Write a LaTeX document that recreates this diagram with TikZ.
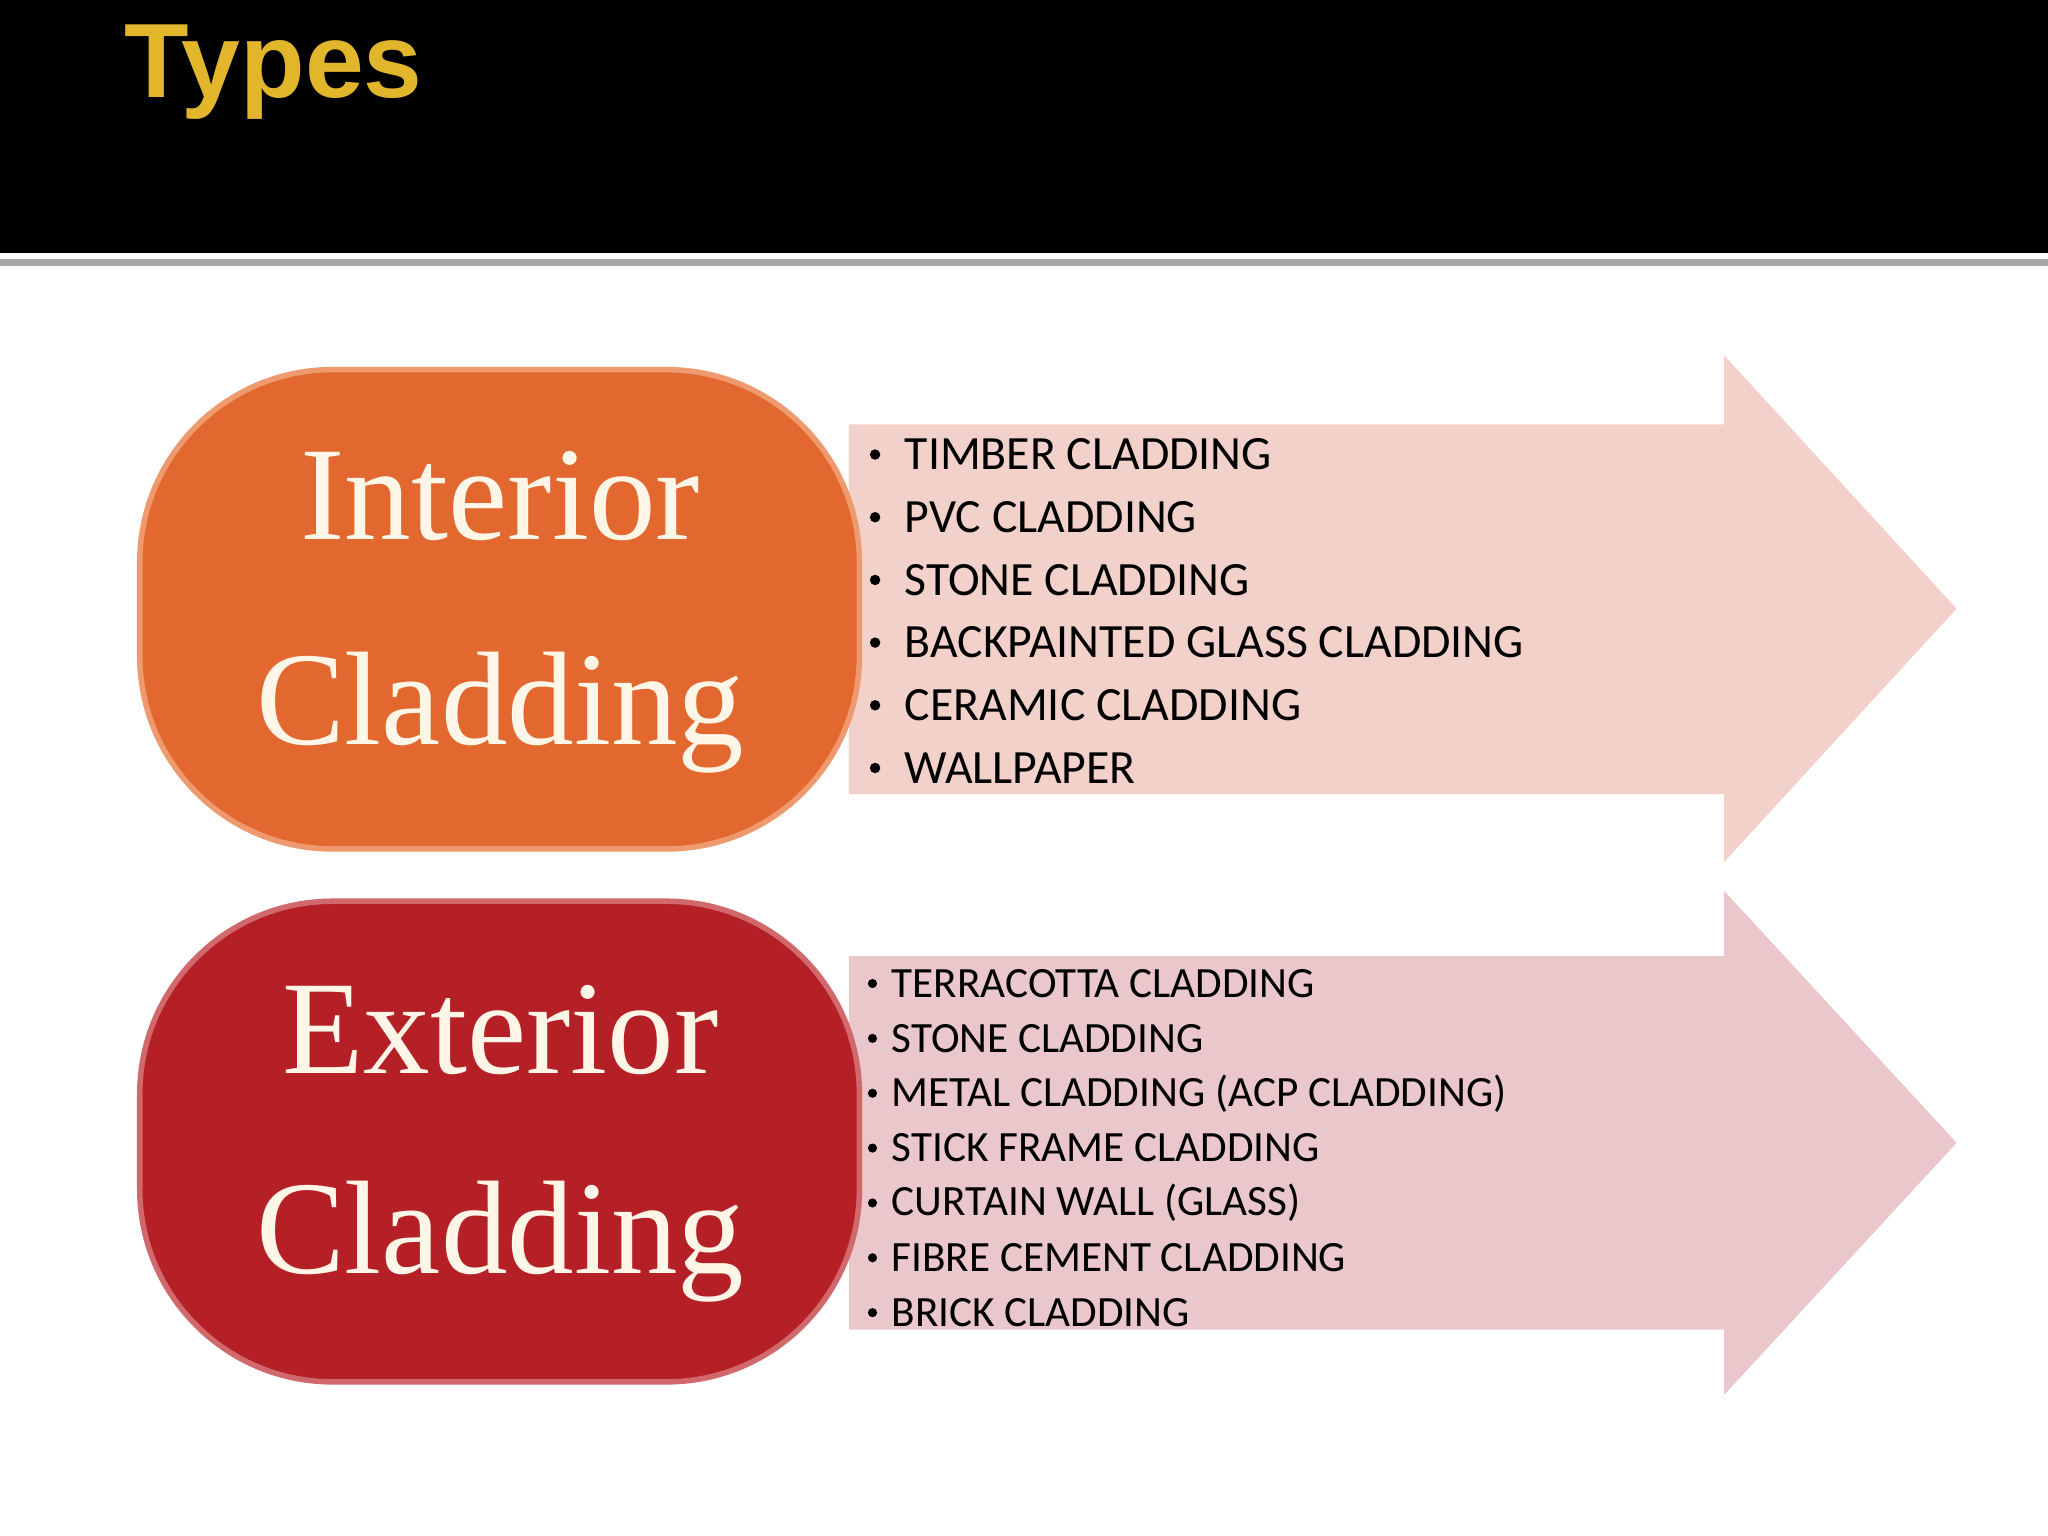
\documentclass[tikz,border=0pt]{standalone}
\usepackage{fontspec}
\setmainfont{Liberation Serif}
\newfontfamily\itemfont{Carlito}
\newfontfamily\titlefont{Liberation Sans}
\definecolor{hdryel}{HTML}{E2B62A}
\definecolor{intor}{HTML}{E2682F}
\definecolor{intbd}{HTML}{EE9A6E}
\definecolor{extred}{HTML}{B51F26}
\definecolor{extbd}{HTML}{D0686C}
\definecolor{arrA}{HTML}{F3D1CB}
\definecolor{arrB}{HTML}{E9C7CB}
\definecolor{cream}{HTML}{FFF6E8}
\begin{document}
\begin{tikzpicture}[x=0.01cm,y=-0.01cm,
  bigtxt/.style={font=\fontsize{29pt}{34pt}\selectfont, text=cream, anchor=base},
  itemA/.style={font=\itemfont\fontsize{10.4pt}{12pt}\selectfont, anchor=west, inner sep=0pt},
  itemB/.style={font=\itemfont\fontsize{9.4pt}{11pt}\selectfont, anchor=west, inner sep=0pt},
  catbox/.style={rounded corners=42, line width=1.2pt}]
\useasboundingbox (0,0) rectangle (1568,1176);
\fill[white] (0,0) rectangle (1568,1176);
\fill[black] (0,0) rectangle (1568,194);
\draw[gray!70, line width=1.5pt] (0,201) -- (1568,201);
\node[anchor=base west, inner sep=0pt, text=hdryel, font=\titlefont\bfseries\fontsize{23pt}{26pt}\selectfont] (title) at (95,75) {Types};
% arrows
\fill[arrA] (650,325) -- (1320,325) -- (1320,272) -- (1498,466) -- (1320,660) -- (1320,608) -- (650,608) -- cycle;
\fill[arrB] (650,732) -- (1320,732) -- (1320,682) -- (1498,875) -- (1320,1068) -- (1320,1018) -- (650,1018) -- cycle;
% boxes
\draw[catbox, fill=intor, draw=intbd] (107,283) rectangle (658,650);
\draw[catbox, fill=extred, draw=extbd] (107,690) rectangle (658,1058);
\node[bigtxt] (i1) at (383,413) {Interior};
\node[bigtxt] (i2) at (383,570) {Cladding};
\node[bigtxt] (e1) at (383,822) {Exterior};
\node[bigtxt] (e2) at (383,975) {Cladding};
% interior items
\foreach \t [count=\k] in {TIMBER CLADDING, PVC CLADDING, STONE CLADDING, BACKPAINTED GLASS CLADDING, CERAMIC CLADDING, WALLPAPER}{
  \node[itemA] (a\k) at (692,{300+48*\k}) {\t};
  \fill (670,{300+48*\k}) circle (4);
}
% exterior items
\foreach \t [count=\k] in {TERRACOTTA CLADDING, STONE CLADDING, METAL CLADDING (ACP CLADDING), STICK FRAME CLADDING, CURTAIN WALL (GLASS), FIBRE CEMENT CLADDING, BRICK CLADDING}{
  \node[itemB] (b\k) at (682,{711+42*\k}) {\t};
  \fill (668,{711+42*\k}) circle (3.5);
}
\end{tikzpicture}
\end{document}
